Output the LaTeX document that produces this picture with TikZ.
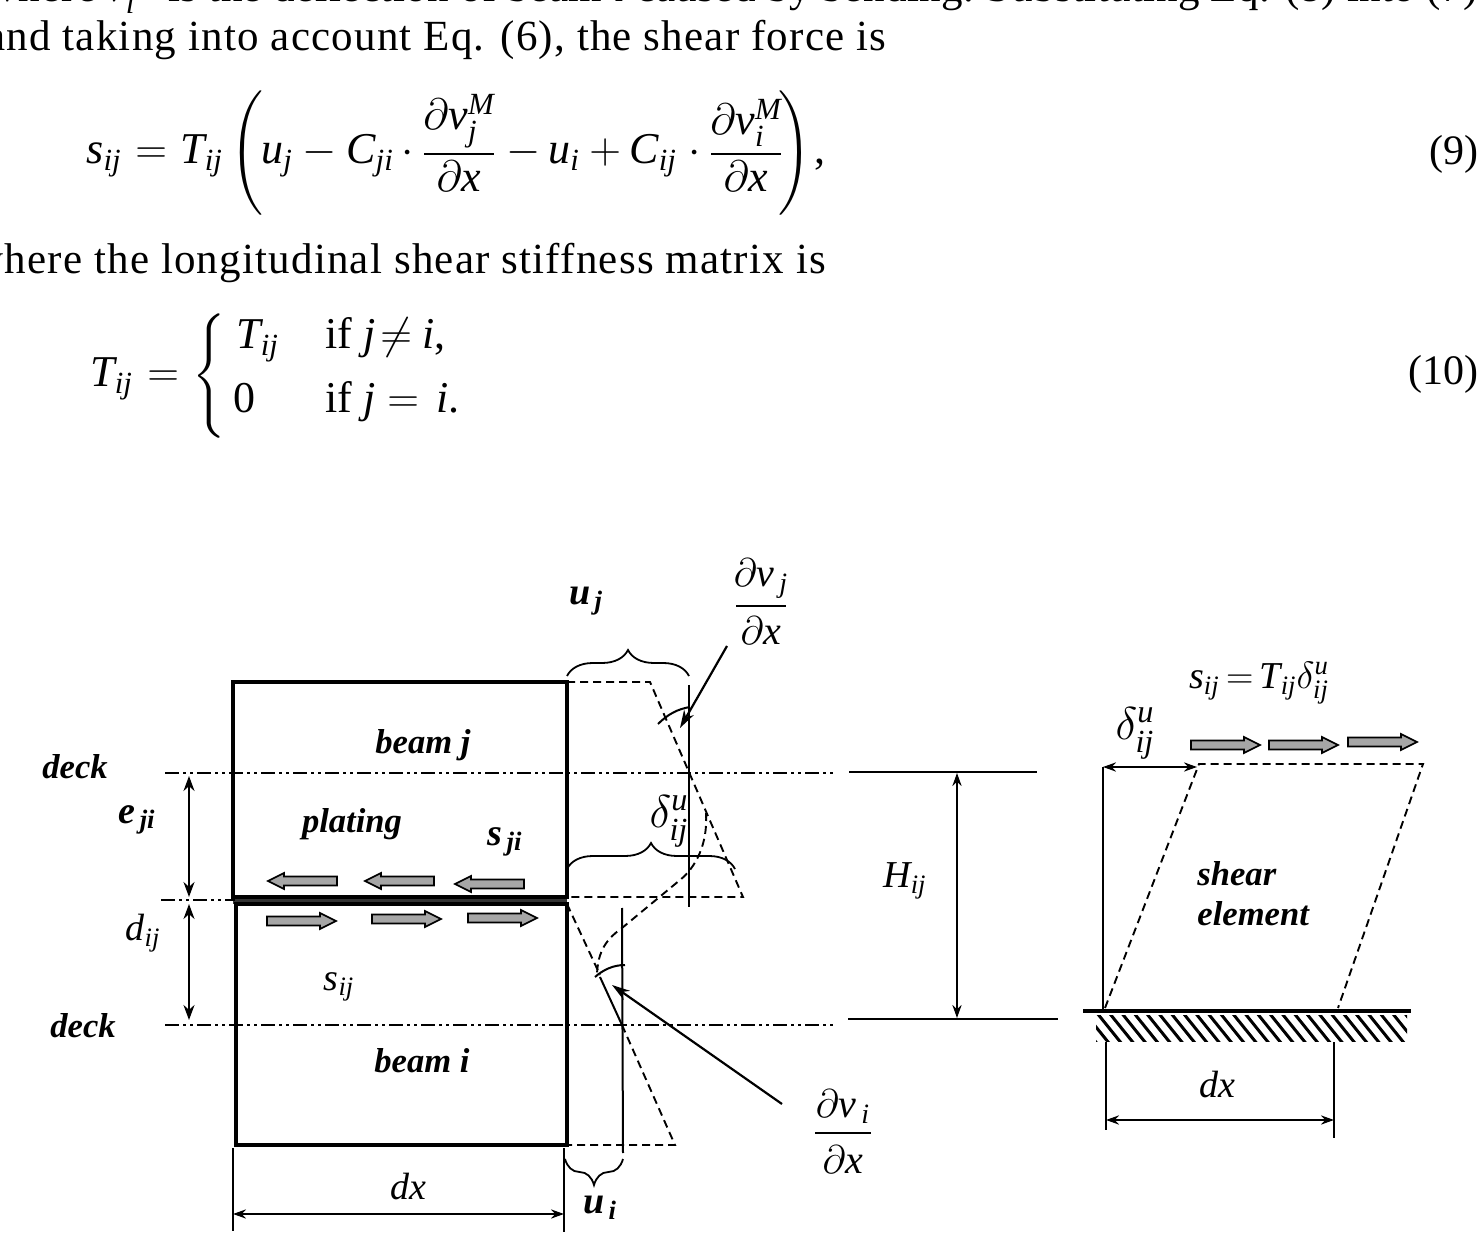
\documentclass[tikz,border=0pt]{standalone}
\usepackage{fix-cm}
\usepackage{amsmath}
\usepackage{fontspec}
\setmainfont{Liberation Serif}
\newfontfamily\spaced[LetterSpace=2.8]{Liberation Serif}
\newfontfamily\spacedb[LetterSpace=1.0]{Liberation Serif}
\newfontfamily\spacedc[LetterSpace=1]{Liberation Serif}
\usetikzlibrary{arrows.meta,decorations.pathreplacing}
\newcommand{\mi}[1]{\mathit{#1}}
\newcommand{\mbi}[1]{\text{\bfseries\itshape #1}}
\newcommand{\pd}{\partial}
\tikzset{
  x=0.5pt,y=-0.5pt,
  bodytext/.style={anchor=base west,inner sep=0pt,font=\fontsize{21.5}{24}\selectfont\spaced},
  bodyb/.style={anchor=base west,inner sep=0pt,font=\fontsize{21.5}{24}\selectfont\spacedb},
  bodyc/.style={anchor=base west,inner sep=0pt,font=\fontsize{21.5}{24}\selectfont\spacedc},
  eqtext/.style={anchor=base west,inner sep=0pt,font=\fontsize{22}{26}\selectfont},
  eqmid/.style={anchor=base,inner sep=0pt,font=\fontsize{22}{26}\selectfont},
  eqnum/.style={anchor=base east,inner sep=0pt,font=\fontsize{21}{26}\selectfont},
  lab/.style={inner sep=0pt,font=\fontsize{19}{22}\selectfont},
  frc/.style={anchor=base,inner sep=0pt,font=\fontsize{20}{24}\selectfont},
  dlt/.style={inner sep=0pt,font=\fontsize{23}{26}\selectfont},
  blab/.style={inner sep=0pt,align=left,font=\fontsize{17.3}{20}\selectfont\bfseries\itshape},
  beam/.style={line width=1.7pt},
  thin line/.style={line width=1pt},
  bar line/.style={line width=0.9pt},
  dash line/.style={line width=0.95pt,dash pattern=on 4pt off 2.5pt},
  centre line/.style={line width=1pt,dash pattern=on 7pt off 2pt on 1.5pt off 2pt on 1.5pt off 2pt},
  dim/.style={line width=0.9pt,{Stealth[length=6.5pt,width=4.6pt]}-{Stealth[length=6.5pt,width=4.6pt]}},
  bigdim/.style={line width=1pt,{Stealth[length=7.5pt,width=5.5pt]}-{Stealth[length=7.5pt,width=5.5pt]}},
  lead/.style={line width=1.1pt,-{Stealth[length=9pt,width=5.5pt]}},
  brc/.style={line width=0.9pt,decorate,decoration={brace,amplitude=13pt}},
  garrow/.style={draw=black,fill=black!35,line width=0.8pt,line join=miter},
}
\newcommand{\shearArrow}[3]{\draw[garrow,shift={(#1,#2)},xscale=#3] (0,-4.5)--(53,-4.5)--(53,-8)--(69,0)--(53,8)--(53,4.5)--(0,4.5)--cycle;}
\begin{document}
\begin{tikzpicture}
\clip (0,0) rectangle (1480,1251);
\fill[white] (0,0) rectangle (1480,1251);
% running text
\node[bodytext,anchor=base east] (t0a) at (97,2) {where};
\node[eqtext] (t0v) at (106,2) {$\mi{v}_{\mi{i}}^{\mi{M}}$};
\node[bodyb] (t0b) at (168,2) {is the deflection of beam \textit{i} caused by bending.};
\node[bodyc,anchor=base east] (t0c) at (1478,2) {Substituting Eq. (8) into (7)};
\node[bodytext] (t1) at (-14,51) {and taking into account Eq. (6), the shear force is};
\node[bodytext] (t2) at (-28,274) {where the longitudinal shear stiffness matrix is};
% equation 9
\node[eqtext] (s) at (86,164) {$\mi{s}_{\mi{ij}}$};
\node[eqtext] (eq) at (135,164) {$=$};
\node[eqtext] (T) at (180,164) {$\mi{T}_{\mi{ij}}$};
\node[eqmid] (lp) at (247,164) {$\Bigg($};
\node[eqtext] (u1) at (261,164) {$\mi{u}_{\mi{j}}$};
\node[eqtext] (m1) at (302,164) {$-$};
\node[eqtext] (c1) at (346,164) {$\mi{C}_{\mi{ji}}$};
\node[eqmid] (d1) at (408,164) {$\cdot$};
\node[eqmid] (n1) at (459,130) {$\pd\mi{v}_{\mi{j}}^{\mi{M}}$};
\draw[bar line] (424,154) -- (494,154);
\node[eqmid] (x1) at (459,192) {$\pd\mi{x}$};
\node[eqtext] (m2) at (506,164) {$-$};
\node[eqtext] (u2) at (548,164) {$\mi{u}_{\mi{i}}$};
\node[eqtext] (p2) at (589,164) {$+$};
\node[eqtext] (c2) at (629,164) {$\mi{C}_{\mi{ij}}$};
\node[eqmid] (d2) at (695,164) {$\cdot$};
\node[eqmid] (n2) at (746,135) {$\pd\mi{v}_{\mi{i}}^{\mi{M}}$};
\draw[bar line] (711,154) -- (781,154);
\node[eqmid] (x2) at (746,192) {$\pd\mi{x}$};
\node[eqmid] (rp) at (795,164) {$\Bigg)$};
\node[eqtext] (cm) at (814,164) {,};
\node[eqnum] (n9) at (1479,165) {(9)};
% equation 10
\node[eqtext] (T0) at (90,387) {$\mi{T}_{\mi{ij}}$};
\node[eqtext] (eq0) at (147,387) {$=$};
\node[eqmid] (lb) at (209,387) {$\Bigg\{$};
\node[eqtext] (T1) at (236,349) {$\mi{T}_{\mi{ij}}$};
\node[eqtext] (if1) at (325,349) {if};
\node[eqtext] (j1) at (363,349) {$\mi{j}$};
\node[eqtext] (ne) at (380,349) {$\neq$};
\node[eqtext] (i1) at (422,349) {$\mi{i}$,};
\node[eqtext] (zero) at (233,413) {0};
\node[eqtext] (if2) at (325,413) {if};
\node[eqtext] (j2) at (363,413) {$\mi{j}$};
\node[eqtext] (eq2) at (387,413) {$=$};
\node[eqtext] (i2) at (436,413) {$\mi{i}$.};
\node[eqnum] (n10) at (1479,385) {(10)};
% beams
\fill[black!80] (233,897) rectangle (567,904);
\draw[beam] (567,897) -- (233,897) -- (233,682) -- (567,682) -- cycle;
\draw[beam] (236,904) rectangle (567,1145);
% centre lines
\draw[centre line] (165,773) -- (835,773);
\draw[centre line] (161,900) -- (235,900);
\draw[centre line] (165,1025) -- (833,1025);
\draw[thin line] (849,772) -- (1037,772);
\draw[thin line] (848,1019) -- (1058,1019);
\draw[bigdim] (189,776) -- (189,897);
\draw[bigdim] (189,904) -- (189,1020);
\draw[dim] (957,773) -- (957,1018);
% upper deformed shape
\draw[dash line] (567,682) -- (650,682) -- (743,897) -- (567,897);
\draw[thin line] (689,685) -- (689,907);
\draw[thin line] (658,724) .. controls (668,714) and (678,709) .. (690,707);
\draw[brc] (567,676) -- (689,676);
\draw[brc] (567,869) -- (735,869);
\draw[dash line] (706,813) .. controls (708,845) and (695,868) .. (680,880) -- (622,928) .. controls (608,938) and (597,950) .. (597,977);
\draw[lead] (727,646) -- (680,728);
% lower deformed shape
\draw[dash line] (567,904) -- (600,975);
\draw[thin line] (600,977) -- (622,1025);
\draw[dash line] (622,1025) -- (675,1145) -- (567,1145);
\draw[thin line] (622,908) -- (623,1153);
\draw[thin line] (595,977) .. controls (603,970) and (613,965) .. (625,965);
\draw[lead] (782,1104) -- (612,985);
\draw[brc] (623,1159) -- (565,1159);
% left dimension
\draw[thin line] (233,1148) -- (233,1231);
\draw[thin line] (564,1148) -- (564,1232);
\draw[dim] (233,1214) -- (564,1214);
% shear arrows
\shearArrow{337}{881}{-1}
\shearArrow{434}{881}{-1}
\shearArrow{524}{884}{-1}
\shearArrow{267}{921}{1}
\shearArrow{372}{919}{1}
\shearArrow{468}{918}{1}
\shearArrow{1191}{745}{1}
\shearArrow{1269}{745}{1}
\shearArrow{1348}{742}{1}
% shear element
\draw[thin line] (1103,767) -- (1103,1010);
\draw[dim] (1103,767) -- (1197,767);
\draw[dash line] (1105,1008) -- (1199,764) -- (1423,764) -- (1338,1008);
\draw[line width=2pt] (1083,1011) -- (1411,1011);
\begin{scope}
\clip (1096,1015) rectangle (1407,1041);
\foreach \k in {0,...,27}{\draw[line width=1.5pt] ({1070+12.3*\k},1010) -- ({1099+12.3*\k},1046);}
\end{scope}
\draw[thin line] (1106,1042) -- (1106,1130);
\draw[thin line] (1334,1042) -- (1334,1138);
\draw[dim] (1106,1120) -- (1334,1120);
% labels
\node[blab] (deck1) at (75,767) {deck};
\node[blab] (deck2) at (83,1026) {deck};
\node[blab] (beamj) at (423,745) {beam j};
\node[blab] (beami) at (422,1061) {beam i};
\node[blab] (plate) at (352,824) {plating};
\node[blab,anchor=north west] (shear) at (1197,861) {shear\\[0pt]element};
\node[lab] (eji) at (137,820) {$\mbi{e}_{\,\mbi{ji}}$};
\node[lab] (dij) at (143,933) {$\mi{d}_{\mi{ij}}$};
\node[lab] (sji) at (505,842) {$\mbi{s}_{\,\mbi{ji}}$};
\node[lab] (sij) at (339,987) {$\mi{s}_{\mi{ij}}$};
\node[lab] (uj) at (586,601) {$\mbi{u}_{\,\mbi{j}}$};
\node[lab] (ui) at (600,1208) {$\mbi{u}_{\,\mbi{i}}$};
\node[frc] (dj) at (761,587) {$\pd\mi{v}_{\,\mi{j}}$};
\draw[bar line] (736,606) -- (786,606);
\node[frc] (djx) at (761,645) {$\pd\mi{x}$};
\node[frc] (di) at (843,1117) {$\pd\mi{v}_{\,\mi{i}}$};
\draw[bar line] (815,1133) -- (871,1133);
\node[frc] (dix) at (843,1173) {$\pd\mi{x}$};
\node[dlt] (du1) at (669,821) {$\delta_{\mi{ij}}^{\mi{u}}$};
\node[dlt] (du2) at (1135,733) {$\delta_{\mi{ij}}^{\mi{u}}$};
\node[lab] (hij) at (905,881) {$\mi{H}_{\mi{ij}}$};
\node[lab] (dx1) at (408,1187) {$\mi{dx}$};
\node[lab] (dx2) at (1217,1085) {$\mi{dx}$};
\node[lab] (form) at (1259,683) {$\mi{s}_{\mi{ij}}\,{=}\,\mi{T}_{\mi{ij}}\delta_{\mi{ij}}^{\mi{u}}$};
\end{tikzpicture}
\end{document}
